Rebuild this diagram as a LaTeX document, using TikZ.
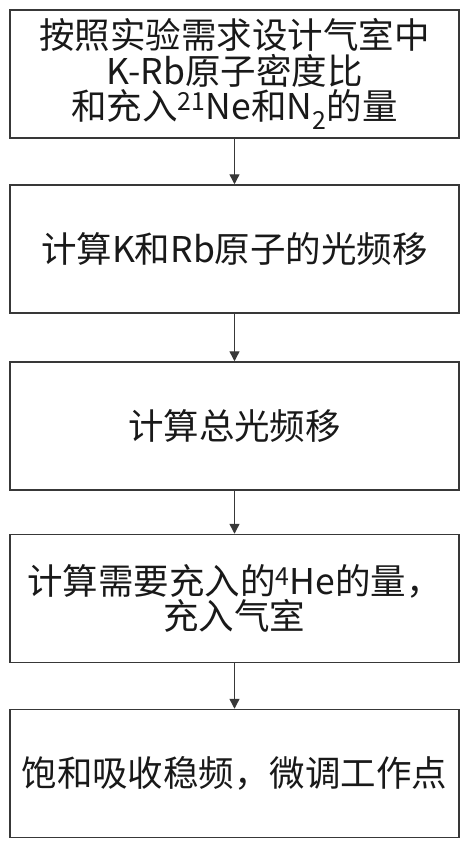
\documentclass[tikz,border=0pt]{standalone}
\usepackage{fontspec}
\setmainfont{Noto Sans CJK SC}
\usetikzlibrary{arrows.meta}

\begin{document}
\begin{tikzpicture}[x=1pt, y=-1pt,
  stepbox/.style = {draw=black!78, line width=1.5pt, fill=white,
                    minimum width=449pt, minimum height=128pt,
                    align=center, inner sep=0pt, text=black!90,
                    font=\fontsize{35.5}{35.5}\selectfont},
  arr/.style     = {-{Triangle[length=10pt,width=10pt]}, line width=1.4pt,
                    draw=black!78, fill=black!78},
]

\useasboundingbox (0,0) rectangle (474,847);

%% ── Steps ───────────────────────────────────────────────────────────────────
\node[stepbox] (S1) at (234.5, 74.0)
  {按照实验需求设计气室中\\K-Rb原子密度比\\和充入\textsuperscript{21}Ne和N\textsubscript{2}的量};
\node[stepbox] (S2) at (234.5,249.0) {计算K和Rb原子的光频移};
\node[stepbox] (S3) at (234.5,426.0) {计算总光频移};
\node[stepbox] (S4) at (234.5,598.5)
  {计算需要充入的\textsuperscript{4}He的量，\\充入气室};
\node[stepbox] (S5) at (234.5,773.5) {饱和吸收稳频，微调工作点};

%% ── Arrows ──────────────────────────────────────────────────────────────────
\draw[arr] (S1)--(S2); \draw[arr] (S2)--(S3);
\draw[arr] (S3)--(S4); \draw[arr] (S4)--(S5);

\end{tikzpicture}
\end{document}
